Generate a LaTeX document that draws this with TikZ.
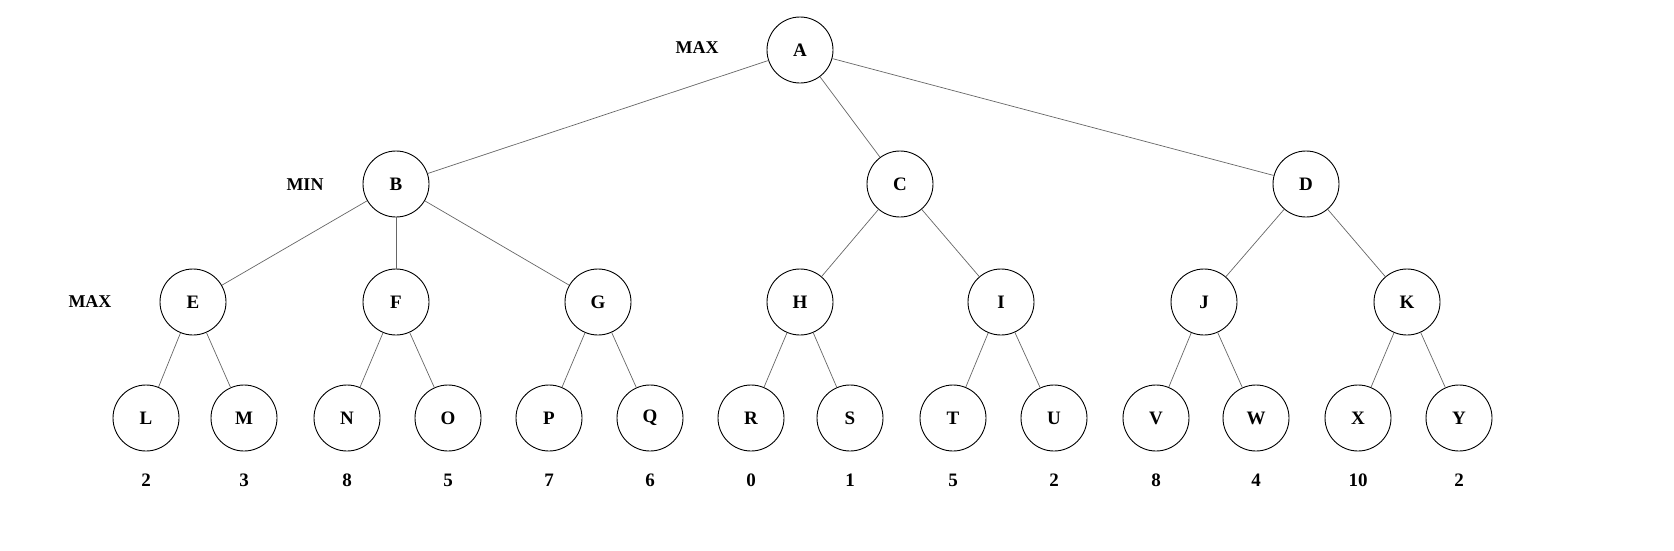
\documentclass[tikz,border=0pt]{standalone}
\usepackage{fontspec}
\setmainfont{Liberation Serif}
\begin{document}
\begin{tikzpicture}[x=1pt,y=-1pt,
  nd/.style={circle,draw,line width=0.9pt,minimum size=66pt,inner sep=0pt,font=\fontsize{19}{22}\selectfont\bfseries},
  val/.style={font=\fontsize{19}{22}\selectfont\bfseries},
  lvl/.style={font=\fontsize{18}{22}\selectfont\bfseries},
  ed/.style={draw,line width=0.7pt,gray!80!black}]
\useasboundingbox (0,0) rectangle (1674,550);
\node[nd] (A) at (800,50) {A};
\node[nd] (B) at (396,184) {B};
\node[nd] (C) at (900,184) {C};
\node[nd] (D) at (1306,184) {D};
\foreach \n/\x in {E/193,F/396,G/598,H/800,I/1001,J/1204,K/1407}
  \node[nd] (\n) at (\x,302) {\n};
\foreach \n/\x/\v in {L/146/2,M/244/3,N/347/8,O/448/5,P/549/7,Q/650/6,R/751/0,S/850/1,T/953/5,U/1054/2,V/1156/8,W/1256/4,X/1358/10,Y/1459/2}{
  \node[nd] (\n) at (\x,418) {\n};
  \node[val] (v\n) at (\x,480) {\v};}
\node[lvl] (l1) at (697,48) {MAX};
\node[lvl] (l2) at (305,185) {MIN};
\node[lvl] (l3) at (90,302) {MAX};
\foreach \a/\b in {A/B,A/C,A/D,B/E,B/F,B/G,C/H,C/I,D/J,D/K,E/L,E/M,F/N,F/O,G/P,G/Q,H/R,H/S,I/T,I/U,J/V,J/W,K/X,K/Y}
  \path[ed] (\a) -- (\b);
\end{tikzpicture}
\end{document}
